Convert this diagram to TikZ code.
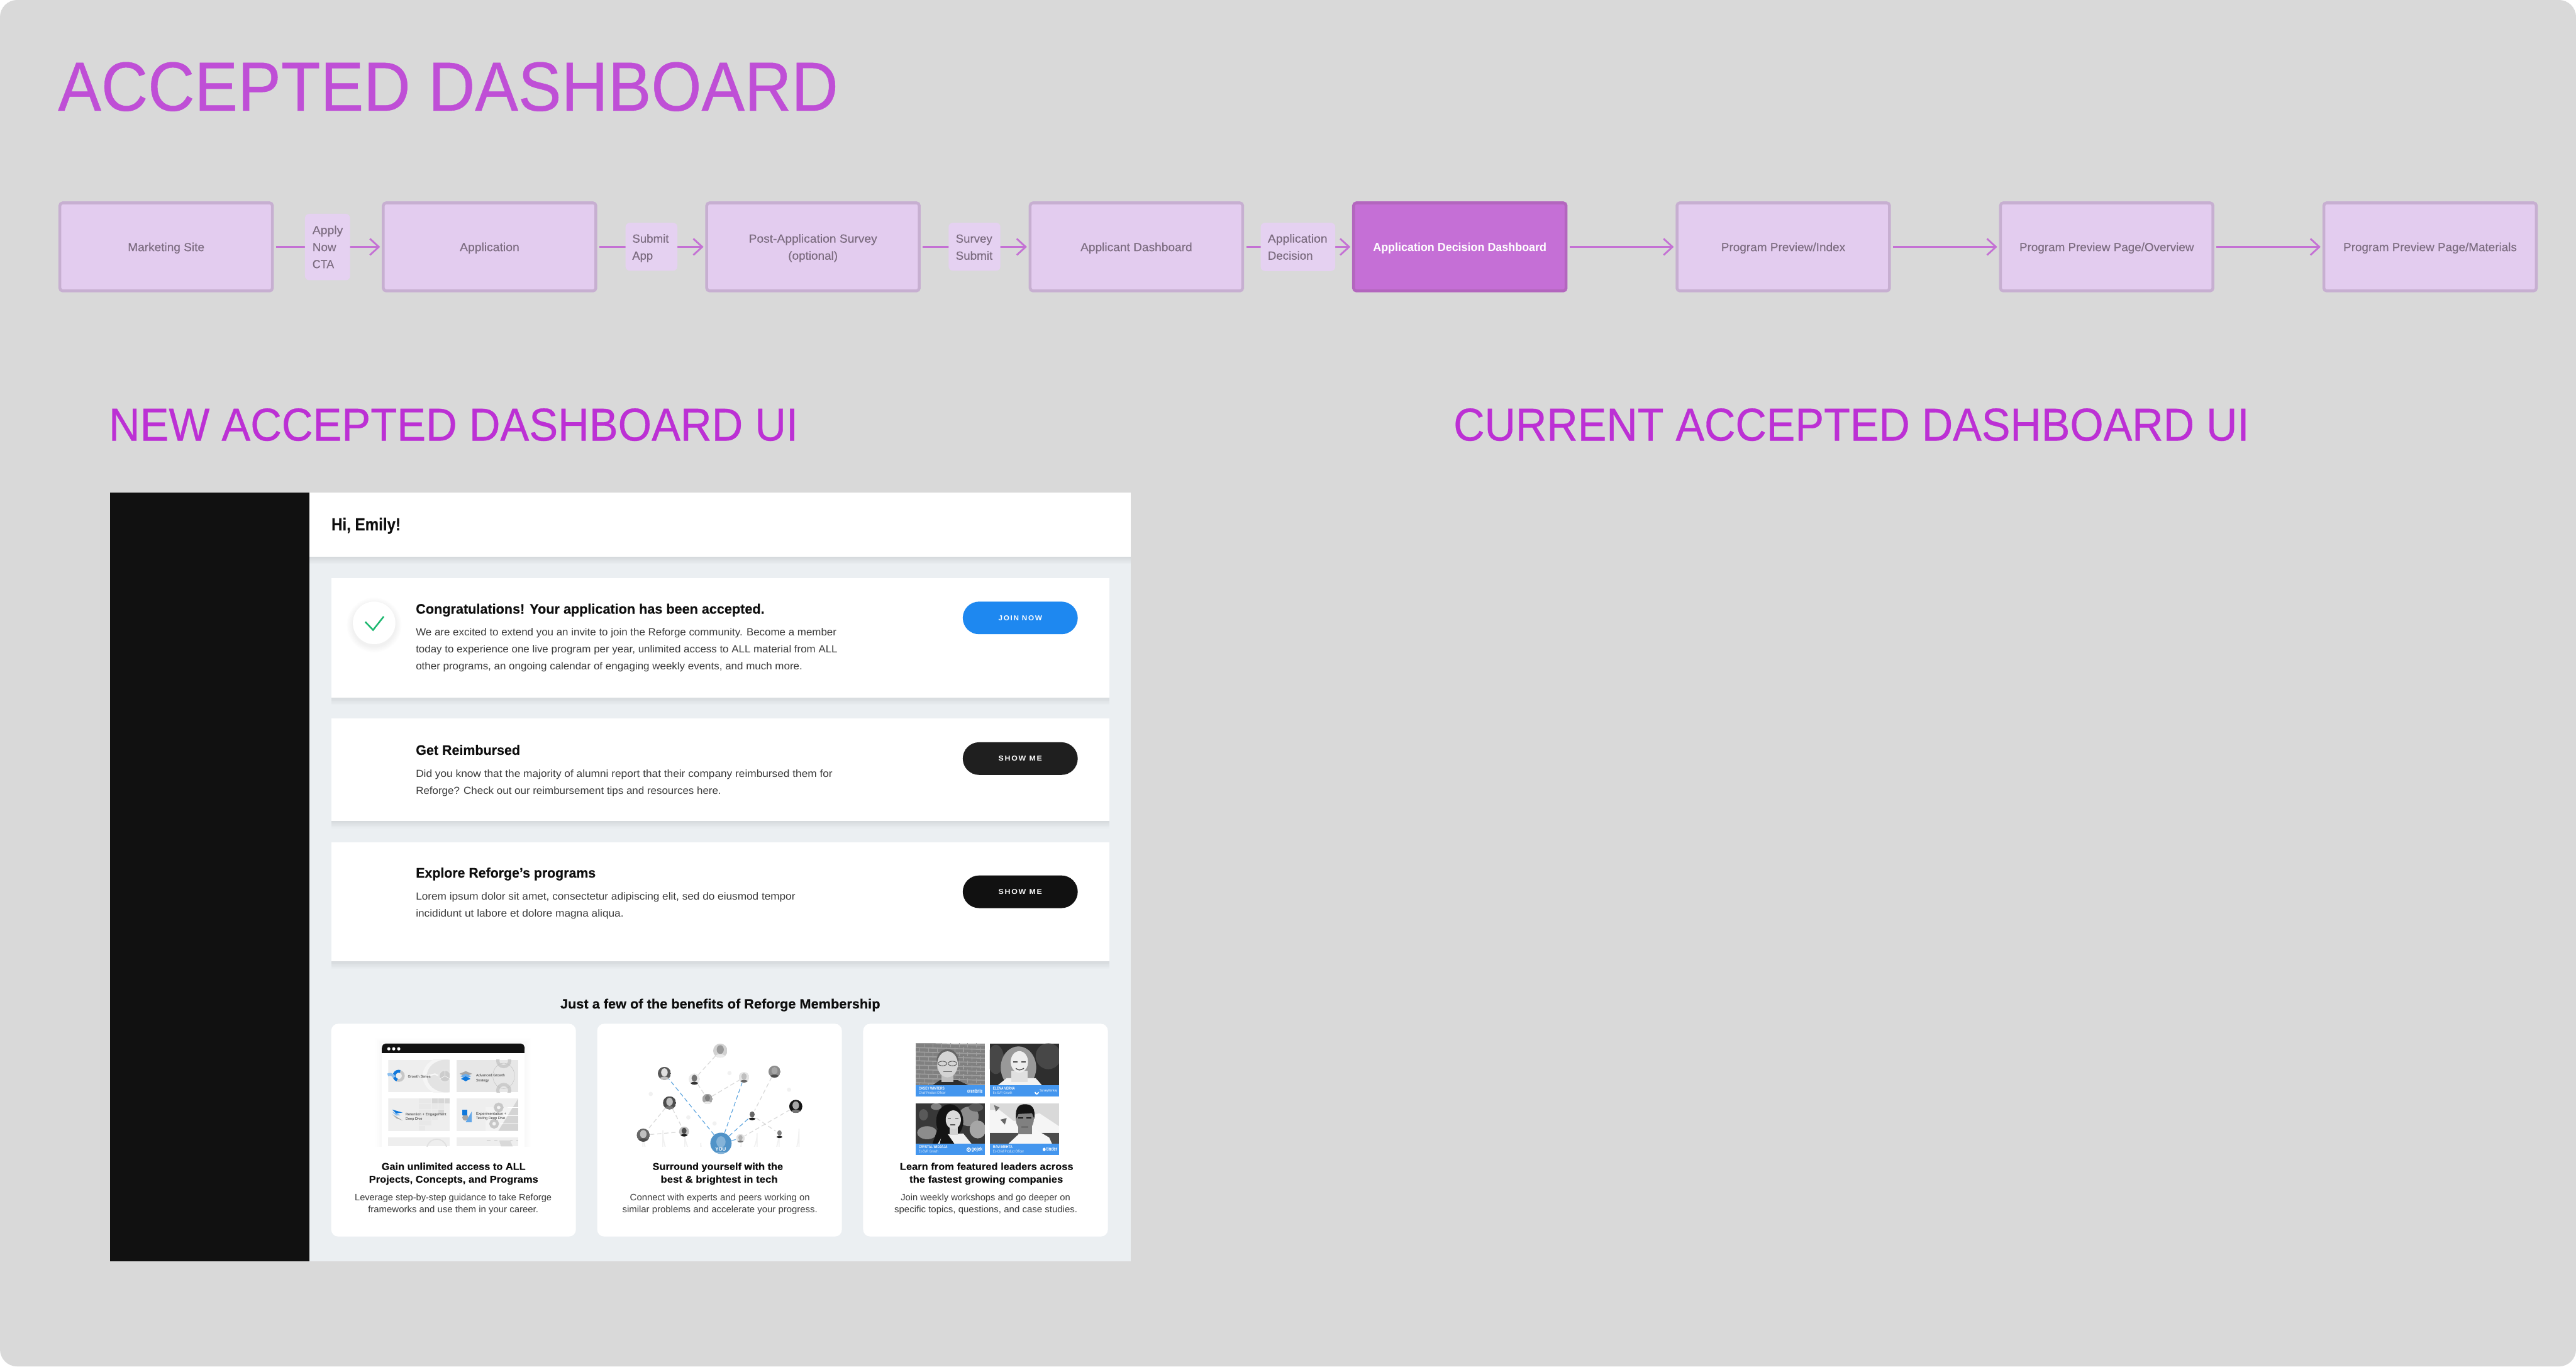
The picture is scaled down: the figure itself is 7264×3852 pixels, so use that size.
\documentclass[tikz,border=0pt]{standalone}
\usepackage{graphicx}
\usepackage{fontspec}
\setmainfont{Liberation Sans}
\newfontfamily\ttlf[FakeBold=0.45]{Liberation Sans}
\newfontfamily\midf[FakeBold=0.25]{Liberation Sans}
\newfontfamily\headf[FakeBold=0.3]{Liberation Sans Bold}
\newfontfamily\pillf[LetterSpace=14]{Liberation Sans Bold}
\usetikzlibrary{arrows.meta,calc,shapes.geometric}
\newdimen\pxl \pxl=0.01cm
\newcommand\fsz[1]{\dimen0=#1\pxl\relax\fontsize{\the\dimen0}{\the\dimen0}\selectfont}
\newcommand\fitw[2]{\resizebox{#1\pxl}{\height}{#2}}
\newcommand\ctline[3]{\raisebox{-#1\pxl}[0pt][0pt]{\makebox[0pt][c]{\fitw{#2}{#3}}}}
\newcommand\lfline[4]{\raisebox{-#1\pxl}[0pt][0pt]{\makebox[0pt][l]{\hspace*{#2\pxl}\fitw{#3}{#4}}}}
\newcommand\softsh[4]{\foreach \i in {1,...,7}{\fill[black,opacity=.012] (#1,#4) rectangle (#3,{#4+\i*3});}}
\definecolor{bgc}{HTML}{D9D9D9}
\definecolor{boxf}{HTML}{E3CCEF}
\definecolor{boxs}{HTML}{C7AFD1}
\definecolor{lblf}{HTML}{E5D1F1}
\definecolor{heroF}{HTML}{C56FD6}
\definecolor{heroS}{HTML}{B366BE}
\definecolor{connc}{HTML}{C471D4}
\definecolor{txtc}{HTML}{7C6C80}
\definecolor{ttl}{HTML}{BF4FD6}
\definecolor{sect}{HTML}{BC30D4}
\definecolor{panel}{HTML}{EBEFF2}
\definecolor{side}{HTML}{111111}
\definecolor{ink}{HTML}{0E0E0E}
\definecolor{bodyc}{HTML}{3A3A3A}
\definecolor{btnb}{HTML}{1E88F0}
\definecolor{photob}{HTML}{4496EE}
\definecolor{tile}{HTML}{EEEEEE}
\definecolor{arcc}{HTML}{F1F1F1}
\definecolor{dashg}{HTML}{DADADA}
\definecolor{dashb}{HTML}{5AA3DE}
\definecolor{bl1}{HTML}{0F78DC}
\definecolor{bl2}{HTML}{8CBFEF}
\definecolor{okg}{HTML}{1DB870}
\tikzset{
 flowbox/.style={rectangle,draw=boxs,fill=boxf,line width=.08cm,rounded corners=.08cm,minimum width=5.99cm,minimum height=2.48cm,inner sep=0pt,text=txtc,font=\midf\fsz{33}},
 herobox/.style={flowbox,draw=heroS,fill=heroF,text=white,font=\bfseries\fsz{33}},
 lblbox/.style={rectangle,fill=lblf,rounded corners=.12cm,inner sep=0pt,text=txtc,font=\midf\fsz{33}},
 conn/.style={draw=connc,line width=.065cm,shorten <=.06cm,shorten >=.05cm,-{Straight Barb[length=.25cm,width=.46cm,line width=.05cm]}},
 tl/.style={inner sep=0pt,anchor=base west},
 tc/.style={inner sep=0pt,anchor=base},
 bodyt/.style={tl,text=bodyc,font=\fsz{29}},
 headt/.style={tl,text=ink,font=\headf\fsz{39}},
 benh/.style={tc,text=ink,font=\headf\fsz{28}},
 benb/.style={tc,text=bodyc,font=\fsz{26}},
 minit/.style={tl,text=black!80,font=\fsz{10.5}},
 pill/.style={rectangle,rounded corners=.46cm,inner sep=0pt,minimum width=3.24cm,minimum height=.92cm,text=white,font=\pillf\fsz{20}},
 card/.style={fill=white},
 bencard/.style={fill=white,rounded corners=.2cm},
 arcl/.style={draw=arcc,line width=.03cm},
 gdash/.style={draw=dashg,line width=.022cm,dash pattern=on .12cm off .08cm},
 bdash/.style={draw=dashb,line width=.02cm,dash pattern=on .12cm off .08cm},
 av/.style n args={4}{circle,inner sep=0pt,minimum size={#1*.01cm},path picture={
   \fill[#2] (path picture bounding box.south west) rectangle (path picture bounding box.north east);
   \fill[#4] ([yshift={-#1*.0052cm}]path picture bounding box.center) ellipse [x radius={#1*.0042cm},y radius={#1*.0028cm}];
   \fill[#3] ([yshift={#1*.0008cm}]path picture bounding box.center) ellipse [x radius={#1*.0025cm},y radius={#1*.0031cm}];
 }},
 phname/.style={tl,text=white,font=\bfseries\fsz{11.5}},
 phrole/.style={tl,text=white!85!photob,font=\fsz{11}},
 phlogo/.style={tl,text=white,font=\bfseries\fsz{15}},
}
\begin{document}
\begin{tikzpicture}[x=.01cm,y=-.01cm]
\useasboundingbox (0,0) rectangle (7264,3852);
\fill[white] (0,0) rectangle (7264,3852);
\fill[bgc,rounded corners=.48cm] (0,0) rectangle (7264,3852);
% titles
\node[tl,text=ttl,font=\ttlf\fsz{196}] (title) at (163,312) {\fitw{2200}{ACCEPTED DASHBOARD}};
\node[tl,text=sect,font=\ttlf\fsz{130}] (secnew) at (306,1242) {\fitw{1944}{NEW ACCEPTED DASHBOARD UI}};
\node[tl,text=sect,font=\ttlf\fsz{130}] (seccur) at (4098,1242) {\fitw{2244}{CURRENT ACCEPTED DASHBOARD UI}};
% flow boxes
\node[flowbox] (b1) at (468.5,696) {\ctline{12}{216}{Marketing Site}};
\node[flowbox] (b2) at (1380.5,696) {\ctline{12}{168}{Application}};
\node[flowbox] (b3) at (2292.5,696) {\ctline{-12}{362}{Post-Application Survey}\ctline{36}{140}{(optional)}};
\node[flowbox] (b4) at (3204.5,696) {\ctline{12}{315}{Applicant Dashboard}};
\node[herobox] (b5) at (4116.5,696) {\ctline{12}{489}{Application Decision Dashboard}};
\node[flowbox] (b6) at (5028.5,696) {\ctline{12}{350}{Program Preview/Index}};
\node[flowbox] (b7) at (5940.5,696) {\ctline{12}{492}{Program Preview Page/Overview}};
\node[flowbox] (b8) at (6852.5,696) {\ctline{12}{489}{Program Preview Page/Materials}};
\foreach \a/\b in {b1/b2,b2/b3,b3/b4,b4/b5,b5/b6,b6/b7,b7/b8}{\draw[conn] (\a) -- (\b);}
\node[lblbox,minimum width=1.27cm,minimum height=1.87cm] (l1) at (923.5,696.5) {\lfline{-36.5}{-42.5}{86}{Apply}\lfline{11.5}{-42.5}{67}{Now}\lfline{59.5}{-42.5}{61}{CTA}};
\node[lblbox,minimum width=1.46cm,minimum height=1.35cm] (l2) at (1837,695.5) {\lfline{-11.5}{-54}{103}{Submit}\lfline{36.5}{-54}{58}{App}};
\node[lblbox,minimum width=1.46cm,minimum height=1.35cm] (l3) at (2748,695.5) {\lfline{-11.5}{-53}{103}{Survey}\lfline{36.5}{-53}{104}{Submit}};
\node[lblbox,minimum width=2.10cm,minimum height=1.36cm] (l4) at (3660,696) {\lfline{-12}{-85}{168}{Application}\lfline{36}{-85}{127}{Decision}};
% UI panel
\fill[panel] (871,1388) rectangle (3188,3556);
\fill[side] (310,1388) rectangle (872,3556);
\softsh{872}{1388}{3188}{1570}
\fill[white] (872,1388) rectangle (3188,1570);
\node[tl,text=ink,font=\headf\fsz{49}] (hi) at (934,1495) {\fitw{195}{Hi, Emily!}};
% cards
\softsh{934}{1630}{3129}{1966}
\fill[card] (934,1630) rectangle (3129,1966);
\softsh{934}{2026}{3129}{2314}
\fill[card] (934,2026) rectangle (3129,2314);
\softsh{934}{2374}{3129}{2710}
\fill[card] (934,2374) rectangle (3129,2710);
% check
\foreach \i in {1,...,7}{\fill[black,opacity=.007] (1055,1762) circle ({60+\i*2.5});}
\fill[white] (1055,1756) circle (60);
\draw[draw=okg,line width=.045cm] (1030,1753) -- (1052,1776) -- (1082,1738);
\node[headt] (c1h) at (1172,1730) {\fitw{983}{Congratulations! Your application has been accepted.}};
\node[bodyt] (c1a) at (1172,1792) {\fitw{1186}{We are excited to extend you an invite to join the Reforge community. Become a member}};
\node[bodyt] (c1b) at (1172,1840) {\fitw{1189}{today to experience one live program per year, unlimited access to ALL material from ALL}};
\node[bodyt] (c1c) at (1172,1888) {\fitw{1090}{other programs, an ongoing calendar of engaging weekly events, and much more.}};
\node[headt] (c2h) at (1172,2128) {\fitw{294}{Get Reimbursed}};
\node[bodyt] (c2a) at (1172,2191) {\fitw{1175}{Did you know that the majority of alumni report that their company reimbursed them for}};
\node[bodyt] (c2b) at (1172,2239) {\fitw{861}{Reforge? Check out our reimbursement tips and resources here.}};
\node[headt] (c3h) at (1172,2474) {\fitw{507}{Explore Reforge’s programs}};
\node[bodyt] (c3a) at (1172,2537) {\fitw{1070}{Lorem ipsum dolor sit amet, consectetur adipiscing elit, sed do eiusmod tempor}};
\node[bodyt] (c3b) at (1172,2585) {\fitw{586}{incididunt ut labore et dolore magna aliqua.}};
\node[pill,fill=btnb] (btn1) at (2877,1742) {\fitw{123}{JOIN NOW}};
\node[pill,fill=black!88] (btn2) at (2877,2138.5) {\fitw{123}{SHOW ME}};
\node[pill,fill=side] (btn3) at (2877,2514) {\fitw{123}{SHOW ME}};
% benefits
\node[tc,text=ink,font=\headf\fsz{38}] (benhead) at (2031,2843) {\fitw{902}{Just a few of the benefits of Reforge Membership}};
\fill[bencard] (934,2886) rectangle (1624,3486);
\fill[bencard] (1684,2886) rectangle (2374,3486);
\fill[bencard] (2434,2886) rectangle (3124,3486);
% --- window mockup
\begin{scope}[shift={(900,2780)},xscale=.5102,yscale=.4591]
 \begin{scope}
 \clip (290,320) rectangle (1190,984);
 \foreach \i in {1,...,7}{\fill[black,opacity=.004] ({347-\i*5},{353-\i*5}) rectangle ({1135+\i*5},1100);}
 \fill[white] (347,353) rectangle (1135,1100);
 \fill[side,rounded corners=.1cm] (347,353) -- (1135,353) -- (1135,411) -- (347,411) -- cycle;
 \fill[side] (347,380) rectangle (1135,411);
 \fill[white] (385,385) ellipse [x radius=9,y radius=10];
 \fill[white] (412,385) ellipse [x radius=9,y radius=10];
 \fill[white] (440,385) ellipse [x radius=9,y radius=10];
 % tile 1
 \begin{scope}
  \clip (382,453) rectangle (721,651);
  \fill[tile] (382,453) rectangle (721,651);
  \fill[black!4] (700,552) ellipse [x radius=128,y radius=120];
  \fill[black!11] (700,552) ellipse [x radius=105,y radius=100];
  \draw[black!3,line width=.04cm] (560,560) -- (640,540) -- (680,560);
  \fill[white!90!black] (695,552) ellipse [x radius=38,y radius=42];
  \fill[black!20] (695,552) ellipse [x radius=29,y radius=32];
  \draw[white,line width=.01cm] (695,552) -- (695,518) (695,552) -- (668,568) (695,552) -- (722,568);
 \end{scope}
 \draw[black!22,line width=.08cm] (440,551) ellipse [x radius=25,y radius=28];
 \draw[bl1,line width=.08cm] (448,524) arc[start angle=-70,end angle=-250,x radius=25,y radius=28];
 \draw[bl2,line width=.08cm] (415,560) arc[start angle=160,end angle=60,x radius=-25,y radius=-28];
 % tile 2
 \begin{scope}
  \clip (760,453) rectangle (1100,651);
  \fill[tile!97!black] (760,453) rectangle (1100,651);
  \draw[black!20,line width=.09cm] (1020,458) ellipse [x radius=33,y radius=36];
  \draw[black!20,line width=.09cm] (1020,640) ellipse [x radius=33,y radius=36];
  \draw[black!25,line width=.008cm] (1020,551) ellipse [x radius=60,y radius=78];
 \end{scope}
 \fill[black!35] (810,522) -- (845,538) -- (810,554) -- (776,538) -- cycle;
 \fill[bl1!60] (810,538) -- (840,553) -- (810,568) -- (780,553) -- cycle;
 \fill[bl1] (810,554) -- (836,569) -- (810,584) -- (784,569) -- cycle;
 % tile 3
 \begin{scope}
  \clip (382,691) rectangle (721,889);
  \fill[tile] (382,691) rectangle (721,889);
  \foreach \c/\r/\k in {0/0/9,1/0/9,2/0/16,3/0/16,4/0/16,0/1/9,1/1/9,2/1/9,3/1/9,0/2/9,1/2/9,2/2/9,3/2/16,0/3/9,1/3/9,2/3/9,0/4/9,1/4/9,0/5/9}{\fill[black!\k] ({552+\c*35.4},{691+\r*33.3}) rectangle ({552+\c*35.4+32},{691+\r*33.3+30});}
 \end{scope}
 \fill[bl1] (404,758) -- (460,776) -- (425,782) -- cycle;
 \fill[bl2] (404,772) -- (450,792) -- (425,795) -- cycle;
 \fill[black!35] (404,787) -- (462,825) -- (428,812) -- cycle;
 % tile 4
 \begin{scope}
  \clip (760,691) rectangle (1100,889);
  \fill[tile] (760,691) rectangle (1100,889);
  \fill[white,opacity=.35] (920,745) rectangle (1100,889);
  \fill[black!17] (990,889) -- (1100,691) -- (1100,889) -- cycle;
  \draw[white,line width=.012cm] (1040,745) -- (1100,745) (1020,795) -- (1100,795) (1000,846) -- (1100,846);
  \draw[black!22,line width=.08cm] (992,745) ellipse [x radius=19,y radius=21];
  \draw[black!22,line width=.08cm] (967,845) ellipse [x radius=19,y radius=21];
 \end{scope}
 \fill[black!35] (808,807) ellipse [x radius=17,y radius=19];
 \fill[bl1] (790,760) rectangle (818,793);
 \fill[bl1!65] (843,770) -- (843,835) -- (810,835) -- cycle;
 % tiles 5, 6
 \fill[tile] (382,930) rectangle (721,984);
 \fill[tile] (760,930) rectangle (1100,984);
 \draw[black!12,line width=.03cm] (650,1000) ellipse [x radius=55,y radius=60];
 \draw[black!25,dashed,line width=.008cm] (925,947) -- (1100,947);
 \fill[black!15] (995,947) -- (1055,947) -- (1070,984) -- (1005,984) -- cycle;
 \end{scope}
\end{scope}
\node[minit] (m1) at (1149.5,3039) {\fitw{64}{Growth Series}};
\node[minit] (m2a) at (1342,3036) {\fitw{81}{Advanced Growth}};
\node[minit] (m2b) at (1342,3049) {\fitw{36}{Strategy}};
\node[minit] (m3a) at (1143,3145) {\fitw{115}{Retention + Engagement}};
\node[minit] (m3b) at (1143,3158) {\fitw{47}{Deep Dive}};
\node[minit] (m4a) at (1342,3143) {\fitw{85}{Experimentation +}};
\node[minit] (m4b) at (1342,3156) {\fitw{82}{Testing Deep Dive}};
\node[benh] (h1a) at (1279,3298) {\fitw{406}{Gain unlimited access to ALL}};
\node[benh] (h1b) at (1279,3334) {\fitw{477}{Projects, Concepts, and Programs}};
\node[benb] (t1a) at (1278,3385) {\fitw{555}{Leverage step-by-step guidance to take Reforge}};
\node[benb] (t1b) at (1278,3418) {\fitw{480}{frameworks and use them in your career.}};
% --- network
\begin{scope}[arcl]
 \clip (1790,2940) rectangle (2270,3232);
 \draw (1813,3240) -- (1813,3182) arc[start angle=180,end angle=0,radius=220] -- (2253,3240);
 \draw (1869,3240) -- (1869,3186) arc[start angle=180,end angle=0,radius=164] -- (2197,3240);
 \draw (1931,3240) -- (1931,3194) arc[start angle=180,end angle=0,radius=102] -- (2135,3240);
 \draw (1976,3240) -- (1976,3222) arc[start angle=180,end angle=0,radius=57] -- (2090,3240);
\end{scope}
\foreach \x/\y in {1835/3084,2057/3025,1941/3150,2015/3167,2225/3072}{\fill[arcc] (\x,\y) circle (6);}
\node[av={40}{black!18}{black!40}{black!8}] (a1) at (2031,2962) {};
\node[av={37}{black!65}{black!12}{black!25}] (a2) at (1873.5,3026) {};
\node[av={32}{black!8}{black!55}{black!80}] (a3) at (1958,3042) {};
\node[av={30}{black!10}{black!25}{black!60}] (a4) at (2098,3037) {};
\node[av={34}{black!45}{black!35}{black!70}] (a5) at (2184,3021) {};
\node[av={29}{black!35}{black!50}{black!8}] (a6) at (1995,3098) {};
\node[av={37}{black!70}{black!25}{black!55}] (a7) at (1888,3109) {};
\node[av={37}{black!92}{black!35}{black!55}] (a8) at (2244,3119) {};
\node[av={28}{white}{black!60}{black!90}] (a9) at (2121,3144) {};
\node[av={37}{black!60}{black!25}{black!70}] (a10) at (1814,3200) {};
\node[av={28}{black!25}{black!70}{black!90}] (a11) at (1929,3190) {};
\node[av={24}{black!12}{black!30}{black!55}] (a12) at (2088,3209) {};
\node[av={25}{white}{black!50}{black!85}] (a13) at (2198,3196) {};
\foreach \a/\b in {a1/a3,a3/a6,a6/a4,a7/a10,a7/a11,a10/a11,a5/a9,a9/a13,a8/a12}{\draw[gdash] (\a) -- (\b);}
\node[circle,inner sep=0pt,minimum size=.6cm,fill=dashb!90!black] (you) at (2033,3223) {};
\fill[white,opacity=.3] (2033,3219) ellipse [x radius=13,y radius=16];
\fill[white,opacity=.25] (2033,3250) ellipse [x radius=17,y radius=3];
\node[tc,text=white,font=\bfseries\fsz{14}] (youlbl) at (2032,3244) {YOU};
\foreach \b in {a2,a4,a9,a12}{\draw[bdash] (you) -- (\b);}
\node[benh] (h2a) at (2024,3298) {\fitw{368}{Surround yourself with the}};
\node[benh] (h2b) at (2028,3334) {\fitw{330}{best \& brightest in tech}};
\node[benb] (t2a) at (2030,3385) {\fitw{507}{Connect with experts and peers working on}};
\node[benb] (t2b) at (2030,3418) {\fitw{550}{similar problems and accelerate your progress.}};
% --- photos
\begin{scope}[shift={(2400,2780)},xscale=.5102,yscale=.4591]
 % photo 1
 \begin{scope}
  \clip (357,353) rectangle (739,609);
  \fill[black!50] (357,353) rectangle (739,609);
  \foreach \r in {0,...,9}{
    \pgfmathsetmacro\yy{350+\r*27}
    \draw[black!38,line width=.03cm] (357,\yy) -- (739,\yy+12);
    \foreach \c in {0,...,8}{
      \pgfmathsetmacro\xx{357+\c*48+mod(\r,2)*24}
      \draw[black!38,line width=.02cm] (\xx,\yy) -- (\xx,\yy+27);
    }
  }
  \fill[black!82] (450,609) -- (490,578) -- (590,578) -- (650,609) -- cycle;
  \fill[black!25] (500,540) rectangle (565,590);
  \fill[black!60] (533,455) ellipse [x radius=60,y radius=68];
  \fill[black!17] (533,480) ellipse [x radius=57,y radius=80];
  \draw[black!70,line width=.015cm] (505,475) ellipse [x radius=24,y radius=14] (560,475) ellipse [x radius=24,y radius=14];
  \draw[black!60,line width=.025cm] (510,525) -- (560,525);
 \end{scope}
 \fill[photob] (357,609) rectangle (739,678);
 % photo 2
 \begin{scope}
  \clip (766,353) rectangle (1149,609);
  \fill[black!82] (766,353) rectangle (1149,609);
  \fill[black!65,opacity=.6] (1090,430) ellipse [x radius=70,y radius=80];
  \fill[black!65,opacity=.6] (800,450) ellipse [x radius=45,y radius=90];
  \fill[black!40] (925,500) ellipse [x radius=98,y radius=130];
  \fill[black!5] (810,609) -- (860,565) -- (1020,565) -- (1055,609) -- cycle;
  \fill[black!12] (885,520) rectangle (975,590);
  \fill[black!7] (930,465) ellipse [x radius=48,y radius=66];
  \draw[black!70,line width=.025cm] (910,505) .. controls (930,518) .. (955,505);
  \draw[black!70,line width=.03cm] (895,465) -- (920,465) (940,465) -- (965,465);
 \end{scope}
 \fill[photob] (766,609) rectangle (1149,678);
 % photo 3
 \begin{scope}
  \clip (357,719) rectangle (739,967);
  \fill[black!78] (357,719) rectangle (739,967);
  \foreach \x/\y/\a/\b/\g in {650/800/55/60/45,700/880/45/55/35,420/900/55/40/45,470/740/30/20/50,690/745/40/25/65,400/790/25/35/65}{\fill[black!\g] (\x,\y) ellipse [x radius=\a,y radius=\b];}
  \fill[black!92] (545,830) ellipse [x radius=75,y radius=105];
  \fill[black!92] (480,870) -- (520,800) -- (560,967) -- (450,967) -- cycle;
  \fill[black!6] (480,967) -- (510,910) -- (620,905) -- (665,967) -- cycle;
  \fill[black!92] (490,967) -- (510,870) -- (570,967) -- cycle;
  \fill[black!18] (545,860) rectangle (590,915);
  \fill[black!14] (565,820) ellipse [x radius=42,y radius=58];
  \draw[black!80,line width=.03cm] (535,815) -- (552,815) (575,815) -- (595,815);
  \draw[black!65,line width=.03cm] (548,852) -- (575,852);
 \end{scope}
 \fill[photob] (357,967) rectangle (739,1037);
 % photo 4
 \begin{scope}
  \clip (766,719) rectangle (1149,967);
  \fill[black!15] (766,719) rectangle (1149,967);
  \fill[black!4] (766,760) -- (820,760) -- (900,830) -- (1040,780) -- (1149,860) -- (1149,900) -- (766,900) -- cycle;
  \fill[black!55] (790,730) -- (820,745) -- (800,770) -- cycle;
  \fill[black!60] (825,820) -- (860,810) -- (850,850) -- cycle;
  \fill[black!70] (766,900) rectangle (1149,967);
  \fill[black!3] (870,967) -- (930,905) -- (1020,880) -- (1095,930) -- (1110,967) -- cycle;
  \fill[black!50] (925,860) rectangle (1000,910);
  \fill[black!50] (960,815) ellipse [x radius=50,y radius=72];
  \fill[black!92] (912,815) .. controls (905,740) and (930,725) .. (962,725) .. controls (1000,725) and (1020,750) .. (1012,815) -- (1000,780) -- (925,785) -- cycle;
  \draw[black!90,line width=.03cm] (925,808) -- (950,808) (970,808) -- (998,808);
  \draw[black!85,line width=.03cm] (940,865) -- (980,865);
 \end{scope}
 \fill[photob] (766,967) rectangle (1149,1037);
 % small logos
 \fill[white] (1014,650) arc[start angle=180,end angle=0,x radius=12,y radius=16] -- (1032,650) arc[start angle=0,end angle=180,x radius=6,y radius=8] -- cycle;
 \fill[white] (1067,1003) ellipse [x radius=8,y radius=11];
 \draw[white,line width=.022cm] (650,1004) ellipse [x radius=10,y radius=11];
 \fill[white] (650,1004) ellipse [x radius=4,y radius=4.5];
\end{scope}
\node[phname] (pa1) at (2590,3073) {\fitw{73}{CASEY WINTERS}};
\node[phrole] (pa2) at (2590,3084) {\fitw{76}{Chief Product Officer}};
\node[phname] (pb1) at (2799.5,3073) {\fitw{62}{ELENA VERNA}};
\node[phrole] (pb2) at (2799.5,3084) {\fitw{54}{Ex-SVP, Growth}};
\node[phname] (pc1) at (2590,3238) {\fitw{81}{CRYSTAL WIDJAJA}};
\node[phrole] (pc2) at (2590,3249) {\fitw{55}{Ex-SVP, Growth}};
\node[phname] (pd1) at (2799.5,3238) {\fitw{55}{RAVI MEHTA}};
\node[phrole] (pd2) at (2799.5,3249) {\fitw{87}{Ex-Chief Product Officer}};
\node[phlogo] (la) at (2727,3081) {\fitw{43}{eventbrite}};
\node[phlogo,font=\fsz{10}] (lb) at (2931,3078) {\fitw{50}{SurveyMonkey}};
\node[phlogo] (lc) at (2739,3245) {\fitw{31}{gojek}};
\node[phlogo] (ld) at (2950,3245) {\fitw{31}{tinder}};
\node[benh] (h3a) at (2782,3298) {\fitw{489}{Learn from featured leaders across}};
\node[benh] (h3b) at (2781,3334) {\fitw{433}{the fastest growing companies}};
\node[benb] (t3a) at (2779,3385) {\fitw{478}{Join weekly workshops and go deeper on}};
\node[benb] (t3b) at (2780,3418) {\fitw{516}{specific topics, questions, and case studies.}};
\end{tikzpicture}
\end{document}
